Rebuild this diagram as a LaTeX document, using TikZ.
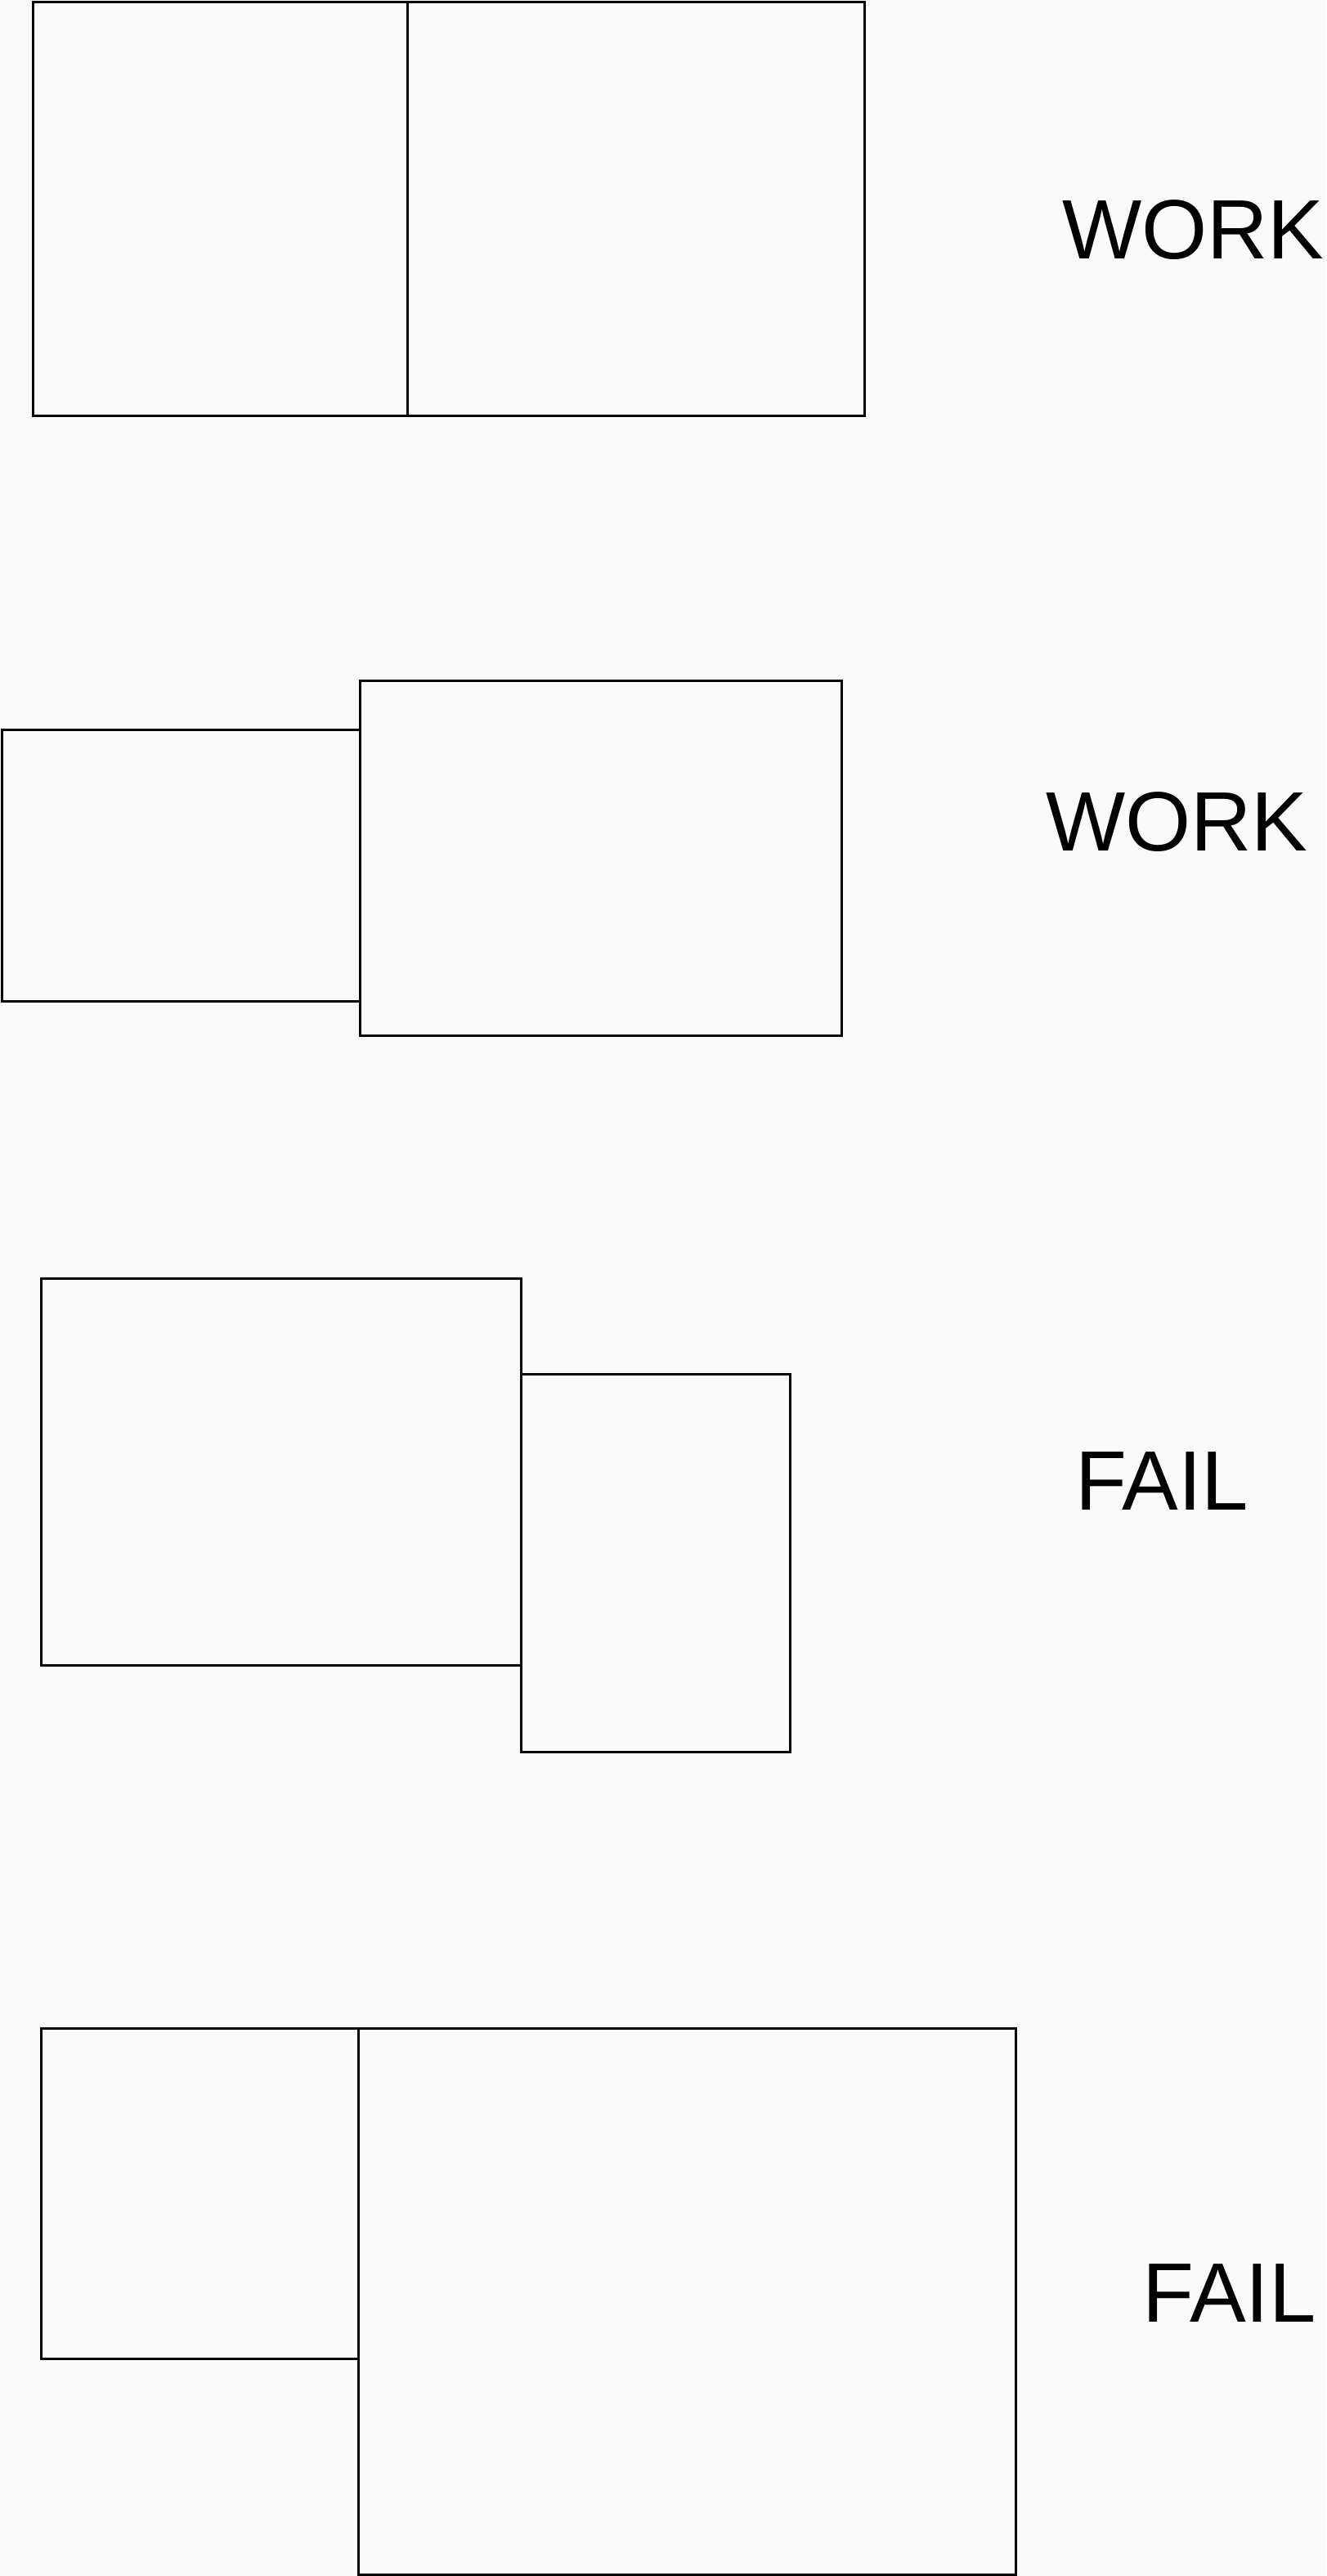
\documentclass[tikz,border=0pt]{standalone}
\usepackage{fontspec}
\setmainfont{Liberation Sans}
\definecolor{bg}{HTML}{FAFAFA}
\begin{document}
\begin{tikzpicture}[x=2.01pt,y=-2.01pt,
  box/.style={draw=black,line width=3pt},
  lab/.style={font=\fontsize{103}{106}\selectfont,inner sep=0pt}]
\fill[bg] (0,0) rectangle (807,1567);
\useasboundingbox (0,0) rectangle (807,1567);
% row 1
\draw[box] (20,1) rectangle (248,253);
\draw[box] (248,1) rectangle (526,253);
\node[lab] (w1) at (726,140) {WORK};
% row 2
\draw[box] (1,444) rectangle (219,609);
\draw[box] (219,414) rectangle (512,630);
\node[lab] (w2) at (716,500) {WORK};
% row 3
\draw[box] (25,778) rectangle (317,1013);
\draw[box] (317,836) rectangle (481,1066);
\node[lab] (f1) at (707,901) {FAIL};
% row 4
\draw[box] (25,1234) rectangle (218,1435);
\draw[box] (218,1234) rectangle (618,1566);
\node[lab] (f2) at (748,1395) {FAIL};
\end{tikzpicture}
\end{document}
